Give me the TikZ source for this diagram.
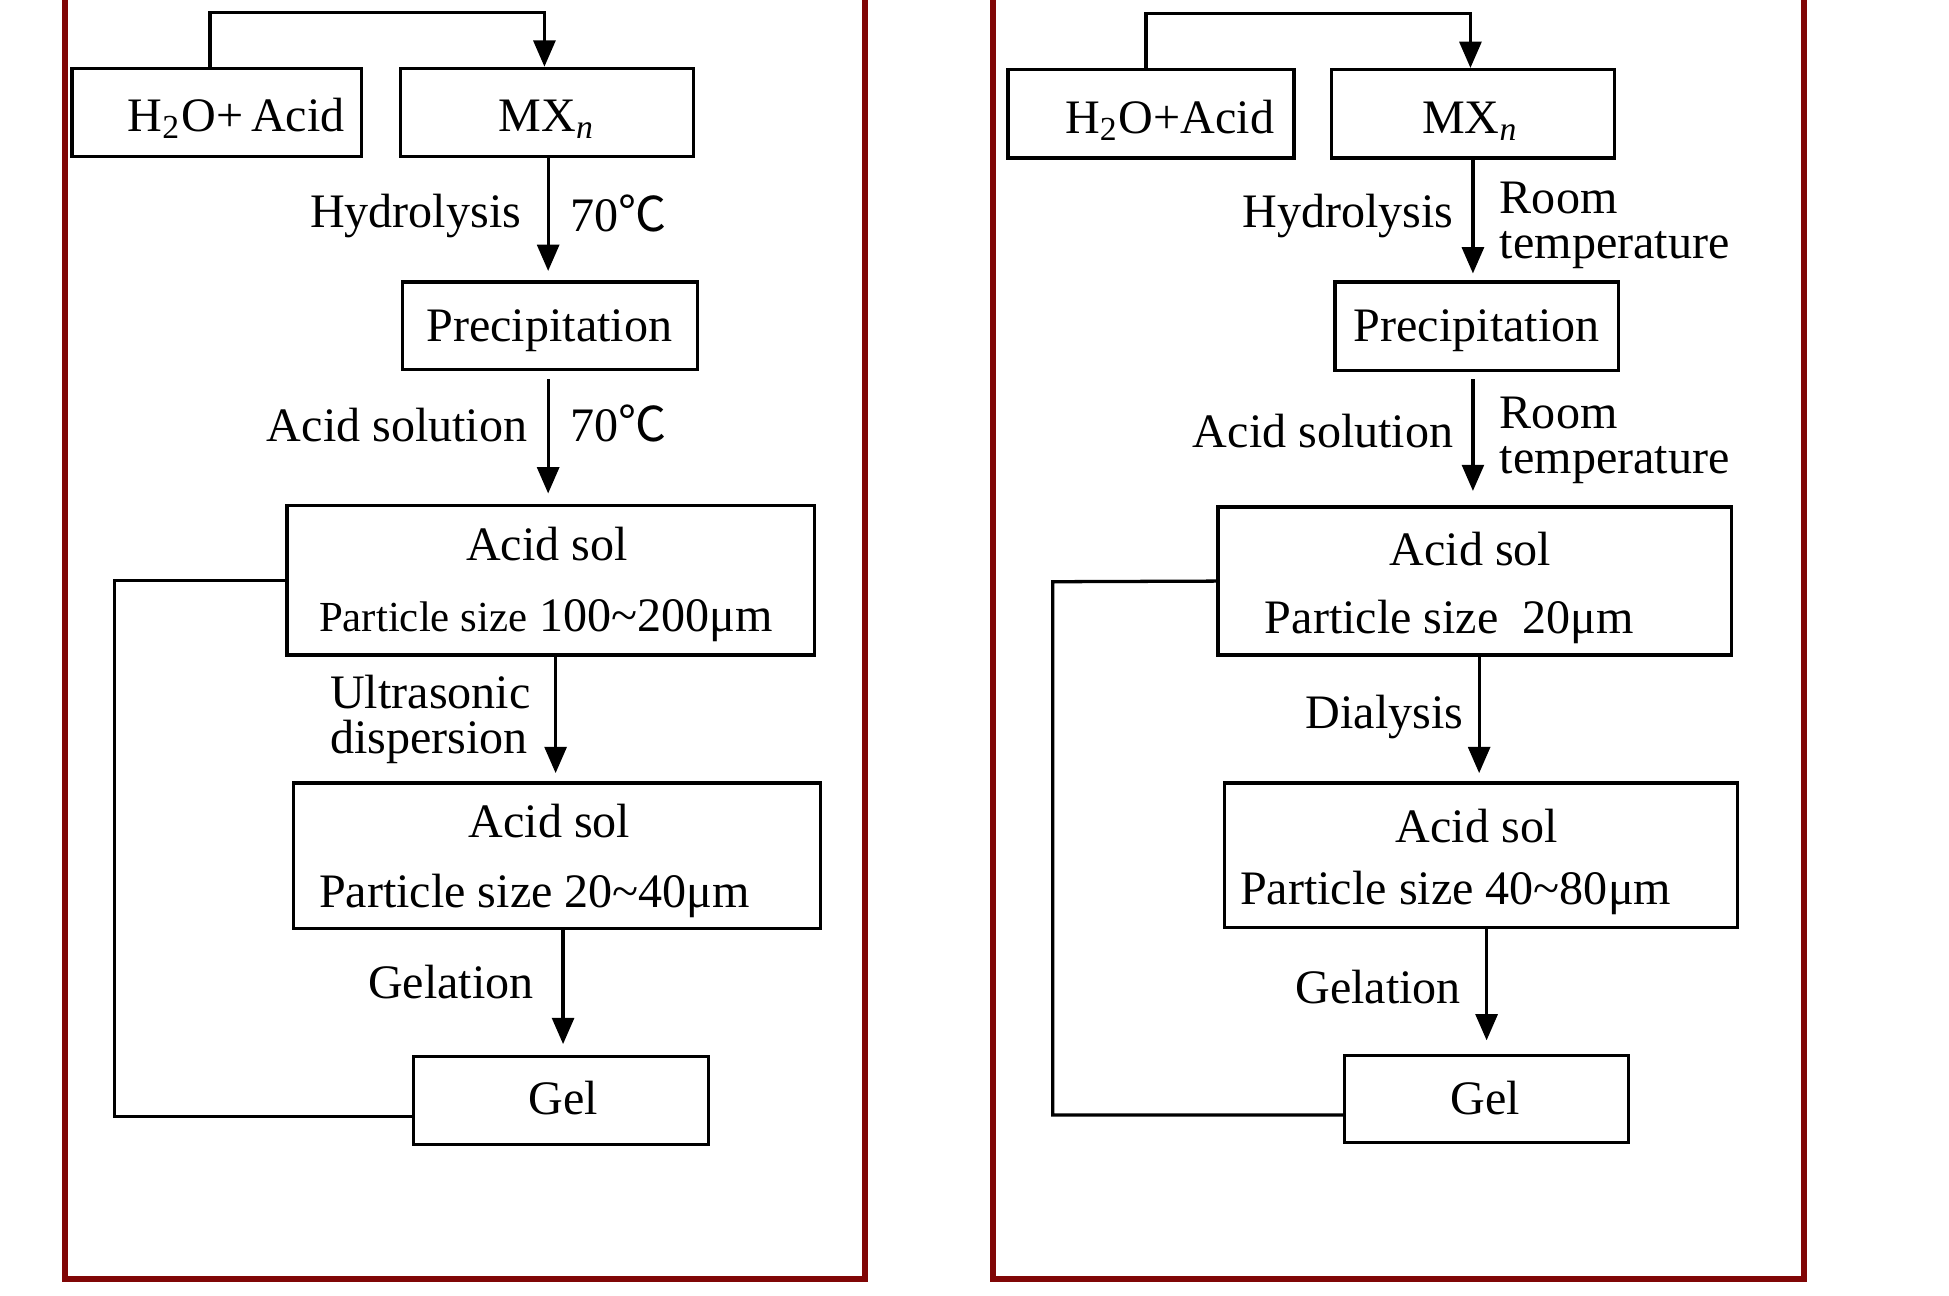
\documentclass[tikz,border=0pt]{standalone}
\usepackage{fontspec}
\setmainfont{Liberation Serif}
\newfontfamily\cjk{Noto Sans CJK SC}
\usetikzlibrary{arrows.meta}
\definecolor{frame}{RGB}{128,6,6}
\newcommand{\degC}{{\cjk ℃}}
\tikzset{
  box/.style={draw, line width=0.75pt, inner sep=0pt},
  txt/.style={inner sep=0pt, font=\fontsize{11}{13}\selectfont},
  arr/.style={line width=0.75pt, -{Triangle[width=5pt,length=6pt]}},
  ln/.style={line width=0.75pt},
  panel/.style={draw=frame, line width=1.35pt}
}
\begin{document}
\begin{tikzpicture}[x=0.01cm, y=-0.01cm]
\useasboundingbox (0,0) rectangle (1568,1042);
\fill[white] (0,0) rectangle (1568,1042);
% panels
\draw[panel] (52,-10) -- (52,1029) -- (696,1029) -- (696,-10);
\draw[panel] (799,-10) -- (799,1029) -- (1451,1029) -- (1451,-10);

% ---------------- left panel ----------------
\node[box, minimum width=2.33cm, minimum height=0.71cm] (h1) at (174.5,90.5) {};
\node[box, minimum width=2.36cm, minimum height=0.71cm] (m1) at (440,90.5) {};
\node[box, minimum width=2.37cm, minimum height=0.70cm] (p1) at (442.5,262) {};
\node[box, minimum width=4.24cm, minimum height=1.20cm] (a1) at (443,467) {};
\node[box, minimum width=4.24cm, minimum height=1.17cm] (b1) at (448,688.5) {};
\node[box, minimum width=2.37cm, minimum height=0.71cm] (g1) at (451.5,885.5) {};

\node[txt, anchor=base] (h1t) at (190,106) {H\textsubscript{2}O+\,Acid};
\node[txt, anchor=base] (m1t) at (440,106) {MX\textsubscript{\textit{n}}};
\node[txt, anchor=base] (p1t) at (442,275) {Precipitation};
\node[txt, anchor=base] (a1t) at (440,451) {Acid sol};
\node[txt, anchor=base west] (a1p) at (256,508) {{\fontsize{9.8}{12}\selectfont Particle size} 100\textasciitilde200μm};
\node[txt, anchor=base] (b1t) at (442,674) {Acid sol};
\node[txt, anchor=base west] (b1p) at (256,730) {Particle size 20\textasciitilde40μm};
\node[txt, anchor=base] (g1t) at (453,897) {Gel};

\coordinate (t1) at (169,10);
\draw[arr] (h1.north -| t1) -- (t1) -- (t1 -| 438,0) -- (438,0 |- m1.north);
\draw[arr] (441,0 |- m1.south) -- (441,218);
\draw[arr] (441,305) -- (441,397);
\draw[arr] (447,0 |- a1.south) -- (447,622);
\draw[arr] (453,0 |- b1.south) -- (453,840);
\coordinate (l1) at (92,467);
\coordinate (l2) at (92,898);
\draw[ln] (a1.west) -- (l1) -- (l2) -- (l2 -| g1.west);

\node[txt, anchor=base east] (hy1) at (420,183) {Hydrolysis};
\node[txt, anchor=base west] (c1a) at (458,186) {70\degC};
\node[txt, anchor=base east] (as1) at (425,355) {Acid solution};
\node[txt, anchor=base west] (c1b) at (458,355) {70\degC};
\node[txt, anchor=base west] (us1) at (265,570) {Ultrasonic};
\node[txt, anchor=base west] (ds1) at (265,606) {dispersion};
\node[txt, anchor=base east] (ge1) at (430,803) {Gelation};

% ---------------- right panel ----------------
\node[box, minimum width=2.30cm, minimum height=0.71cm] (h2) at (926,91.5) {};
\node[box, minimum width=2.28cm, minimum height=0.71cm] (m2) at (1185,91.5) {};
\node[box, minimum width=2.28cm, minimum height=0.71cm] (p2) at (1188,262.5) {};
\node[box, minimum width=4.13cm, minimum height=1.19cm] (a2) at (1186.5,467.5) {};
\node[box, minimum width=4.13cm, minimum height=1.16cm] (b2) at (1191.5,688) {};
\node[box, minimum width=2.28cm, minimum height=0.70cm] (g2) at (1196,884) {};

\node[txt, anchor=base] (h2t) at (941,107) {H\textsubscript{2}O+Acid};
\node[txt, anchor=base] (m2t) at (1183,107) {MX\textsubscript{\textit{n}}};
\node[txt, anchor=base] (p2t) at (1188,275) {Precipitation};
\node[txt, anchor=base] (a2t) at (1183,455) {Acid sol};
\node[txt, anchor=base west] (a2p) at (1017,510) {Particle size\ \ 20μm};
\node[txt, anchor=base] (b2t) at (1188,678) {Acid sol};
\node[txt, anchor=base west] (b2p) at (997,728) {Particle size 40\textasciitilde80μm};
\node[txt, anchor=base] (g2t) at (1195,897) {Gel};

\coordinate (t2) at (922,11);
\draw[arr] (h2.north -| t2) -- (t2) -- (t2 -| 1183,0) -- (1183,0 |- m2.north);
\draw[arr] (1185,0 |- m2.south) -- (1185,220);
\draw[arr] (1185,305) -- (1185,395);
\draw[arr] (1190,0 |- a2.south) -- (1190,622);
\draw[arr] (1196,0 |- b2.south) -- (1196,837);
\coordinate (l3) at (847,468);
\coordinate (l4) at (847,897);
\draw[ln] (a2.west) -- (l3) -- (l4) -- (l4 -| g2.west);

\node[txt, anchor=base east] (hy2) at (1170,183) {Hydrolysis};
\node[txt, anchor=base west] (r2a) at (1206,172) {Room};
\node[txt, anchor=base west] (r2b) at (1206,208) {temperature};
\node[txt, anchor=base east] (as2) at (1170,360) {Acid solution};
\node[txt, anchor=base west] (r2c) at (1206,345) {Room};
\node[txt, anchor=base west] (r2d) at (1206,381) {temperature};
\node[txt, anchor=base east] (di2) at (1178,586) {Dialysis};
\node[txt, anchor=base east] (ge2) at (1176,807) {Gelation};
\end{tikzpicture}
\end{document}
